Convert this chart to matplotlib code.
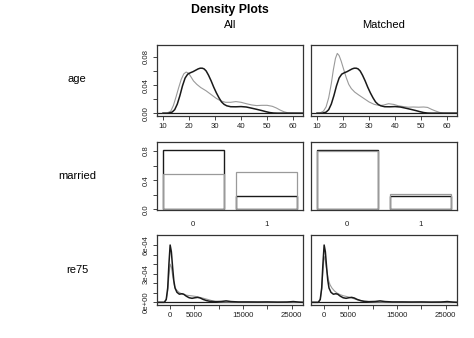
import numpy as np
import matplotlib
matplotlib.use('Agg')
import matplotlib.pyplot as plt

plt.rcParams['font.family'] = ['Liberation Sans', 'DejaVu Sans']

BLACK = '#1a1a1a'
GRAY = '#9a9a9a'

# age densities (treated = black, control = gray)
age_trt_x = [10, 12, 13.5, 14.5, 15.5, 16.5, 17.5, 18.5, 19.5, 20.5, 21.5, 22.5, 23.5, 24.3, 25.1, 25.8, 26.6, 27.5,
             28.5, 29.5, 30.5, 31.5, 32.5, 33.5, 34.5, 36, 38, 40, 42, 44, 46, 48, 49.5, 51, 52.5, 54, 63.8]
age_trt_y = [0, 0, 0.0015, 0.005, 0.013, 0.025, 0.039, 0.050, 0.0555, 0.0575, 0.059, 0.061, 0.063, 0.064, 0.064, 0.063, 0.060, 0.054,
             0.046, 0.037, 0.029, 0.022, 0.016, 0.0125, 0.0105, 0.0092, 0.0091, 0.0094, 0.0088, 0.0072, 0.0055, 0.0037, 0.0022, 0.0009, 0.0002, 0, 0]
age_all_x = [10, 11.5, 13, 14, 15, 16, 17, 18, 18.9, 19.8, 20.7, 21.7, 23, 24.5, 26.5, 28.5, 30.5, 32.2, 34, 36, 38, 40,
             42, 44, 46, 48, 50, 52, 53.5, 55, 56.5, 58, 63.8]
age_all_y = [0, 0, 0.003, 0.011, 0.023, 0.036, 0.048, 0.056, 0.0585, 0.057, 0.052, 0.046, 0.041, 0.0365, 0.032, 0.0265, 0.021, 0.0175, 0.0155, 0.0155, 0.0165, 0.0155,
             0.0135, 0.0118, 0.0108, 0.0112, 0.0112, 0.0098, 0.0075, 0.0045, 0.002, 0.0005, 0]
age_mat_x = [10, 11, 12.5, 13.5, 14.5, 15.5, 16.3, 17.1, 17.8, 18.5, 19.3, 20.2, 21.2, 22.2, 23.2, 24.5, 26, 28, 30, 32, 34,
             35.5, 37.5, 39.5, 41.3, 43, 45, 47, 49, 51, 52.5, 54, 55.5, 57, 58.5, 63.8]
age_mat_y = [0, 0, 0.003, 0.009, 0.022, 0.042, 0.062, 0.078, 0.085, 0.082, 0.074, 0.063, 0.051, 0.041, 0.035, 0.030, 0.026, 0.021, 0.016, 0.0125, 0.011,
             0.0115, 0.0135, 0.0125, 0.0105, 0.0095, 0.0085, 0.0088, 0.0085, 0.0088, 0.0082, 0.0055, 0.0032, 0.0012, 0.0002, 0]

# married proportions for values 0 / 1
married_vals = ['0', '1']
married_trt = [0.811, 0.189]
married_all = [0.487, 0.513]
married_mat = [0.795, 0.212]

# re75 densities
re_trt_x = [-2700, -1200, -800, -500, -250, 0, 250, 500, 750, 1000, 1400, 1900, 2400, 2800, 3300, 3900, 4500, 5100, 5650,
            6200, 6800, 7500, 8200, 9200, 10500, 11500, 12500, 14000, 16000, 18000, 20000, 22000, 24000, 25300, 26500, 27300]
re_trt_y = [0, 0, 0.3e-4, 1.5e-4, 4.0e-4, 6.0e-4, 5.3e-4, 3.7e-4, 2.3e-4, 1.5e-4, 1.05e-4, 0.85e-4, 0.9e-4, 0.85e-4, 0.65e-4, 0.48e-4, 0.42e-4, 0.48e-4, 0.52e-4,
            0.45e-4, 0.3e-4, 0.18e-4, 0.1e-4, 0.07e-4, 0.09e-4, 0.15e-4, 0.08e-4, 0.04e-4, 0.04e-4, 0.03e-4, 0.04e-4, 0.02e-4, 0.03e-4, 0.08e-4, 0.02e-4, 0]
re_all_x = [-2700, -1200, -800, -500, -250, 0, 250, 550, 850, 1200, 1700, 2300, 3000, 3700, 4400, 5200, 6000, 6800,
            7600, 8400, 9300, 10200, 11500, 14000, 18000, 22000, 25000, 27300]
re_all_y = [0, 0, 0.3e-4, 1.2e-4, 2.8e-4, 4.0e-4, 3.7e-4, 2.7e-4, 1.8e-4, 1.35e-4, 1.1e-4, 0.9e-4, 0.78e-4, 0.72e-4, 0.68e-4, 0.62e-4, 0.53e-4, 0.43e-4,
            0.32e-4, 0.2e-4, 0.1e-4, 0.05e-4, 0.03e-4, 0.02e-4, 0.02e-4, 0.01e-4, 0.02e-4, 0]
re_mat_x = [-2700, -1200, -800, -500, -250, 0, 250, 550, 850, 1200, 1600, 2100, 2700, 3300, 4000, 4700, 5400, 6100,
            6800, 7600, 8400, 9400, 10500, 12500, 16000, 20000, 25000, 27300]
re_mat_y = [0, 0, 0.3e-4, 1.4e-4, 3.3e-4, 4.8e-4, 4.4e-4, 3.3e-4, 2.4e-4, 1.85e-4, 1.5e-4, 1.2e-4, 0.95e-4, 0.8e-4, 0.68e-4, 0.6e-4, 0.5e-4, 0.38e-4,
            0.27e-4, 0.18e-4, 0.11e-4, 0.06e-4, 0.03e-4, 0.02e-4, 0.02e-4, 0.01e-4, 0.02e-4, 0]

fig = plt.figure(figsize=(4.74, 3.38), dpi=100)

col_left = [157 / 474, 311 / 474]
col_w = 146 / 474
rows = [(45, 116), (142, 210), (235, 305)]


def make_ax(r, c):
    top, bot = rows[r]
    ax = fig.add_axes([col_left[c], 1 - bot / 338, col_w, (bot - top) / 338])
    for s in ax.spines.values():
        s.set_color('#333333')
        s.set_linewidth(0.9)
    ax.tick_params(labelsize=5.6, length=3, width=0.7, color='#444444',
                   labelcolor='#222222', pad=2)
    return ax


# age row
for c, (gx, gy) in enumerate([(age_all_x, age_all_y), (age_mat_x, age_mat_y)]):
    ax = make_ax(0, c)
    ax.axhline(0, color=BLACK, lw=0.9)
    ax.plot(gx, gy, color=GRAY, lw=0.8)
    ax.plot(age_trt_x, age_trt_y, color=BLACK, lw=1.1)
    ax.set_xlim(7.7, 63.8)
    ax.set_ylim(-0.004, 0.097)
    ax.set_xticks([10, 20, 30, 40, 50, 60])
    if c == 0:
        ax.set_yticks([0, 0.02, 0.04, 0.06, 0.08])
        ax.set_yticklabels(['0.00', '', '0.04', '', '0.08'], rotation=90, va='center')
    else:
        ax.set_yticks([])

# married row
pos = np.arange(len(married_vals)) * 1.2
for c, gv in enumerate([married_all, married_mat]):
    ax = make_ax(1, c)
    ax.bar(pos, married_trt, width=1.0, fill=False, edgecolor=BLACK, lw=1.0)
    ax.bar(pos, gv, width=1.0, fill=False, edgecolor=GRAY, lw=0.9)
    ax.set_xlim(-0.59, 1.79)
    ax.set_ylim(-0.01, 0.924)
    ax.set_xticks(pos)
    ax.set_xticklabels(married_vals)
    ax.tick_params(axis='x', length=0, pad=8)
    if c == 0:
        ax.set_yticks([0, 0.2, 0.4, 0.6, 0.8])
        ax.set_yticklabels(['0.0', '', '0.4', '', '0.8'], rotation=90, va='center')
    else:
        ax.set_yticks([])

# re75 row
for c, (gx, gy) in enumerate([(re_all_x, re_all_y), (re_mat_x, re_mat_y)]):
    ax = make_ax(2, c)
    ax.axhline(0, color=BLACK, lw=0.9)
    ax.plot(gx, gy, color=GRAY, lw=0.8)
    ax.plot(re_trt_x, re_trt_y, color=BLACK, lw=1.1)
    ax.set_xlim(-2700, 27300)
    ax.set_ylim(-2.8e-5, 7.05e-4)
    ax.set_xticks([0, 5000, 10000, 15000, 20000, 25000])
    ax.set_xticklabels(['0', '5000', '', '15000', '', '25000'])
    if c == 0:
        ax.set_yticks([0, 1e-4, 2e-4, 3e-4, 4e-4, 5e-4, 6e-4])
        ax.set_yticklabels(['0e+00', '', '', '3e-04', '', '', '6e-04'], rotation=90, va='center')
    else:
        ax.set_yticks([])

# row and column headings
for name, y in [('age', 79), ('married', 176), ('re75', 270)]:
    fig.text(77 / 474, 1 - y / 338, name, ha='center', va='center', fontsize=8)
fig.text(230 / 474, 1 - 10 / 338, 'Density Plots', ha='center', va='center',
         fontsize=8.8, fontweight='bold')
fig.text(230 / 474, 1 - 25 / 338, 'All', ha='center', va='center', fontsize=8)
fig.text(384 / 474, 1 - 25 / 338, 'Matched', ha='center', va='center', fontsize=8)

fig.savefig('out.png', dpi=100)
